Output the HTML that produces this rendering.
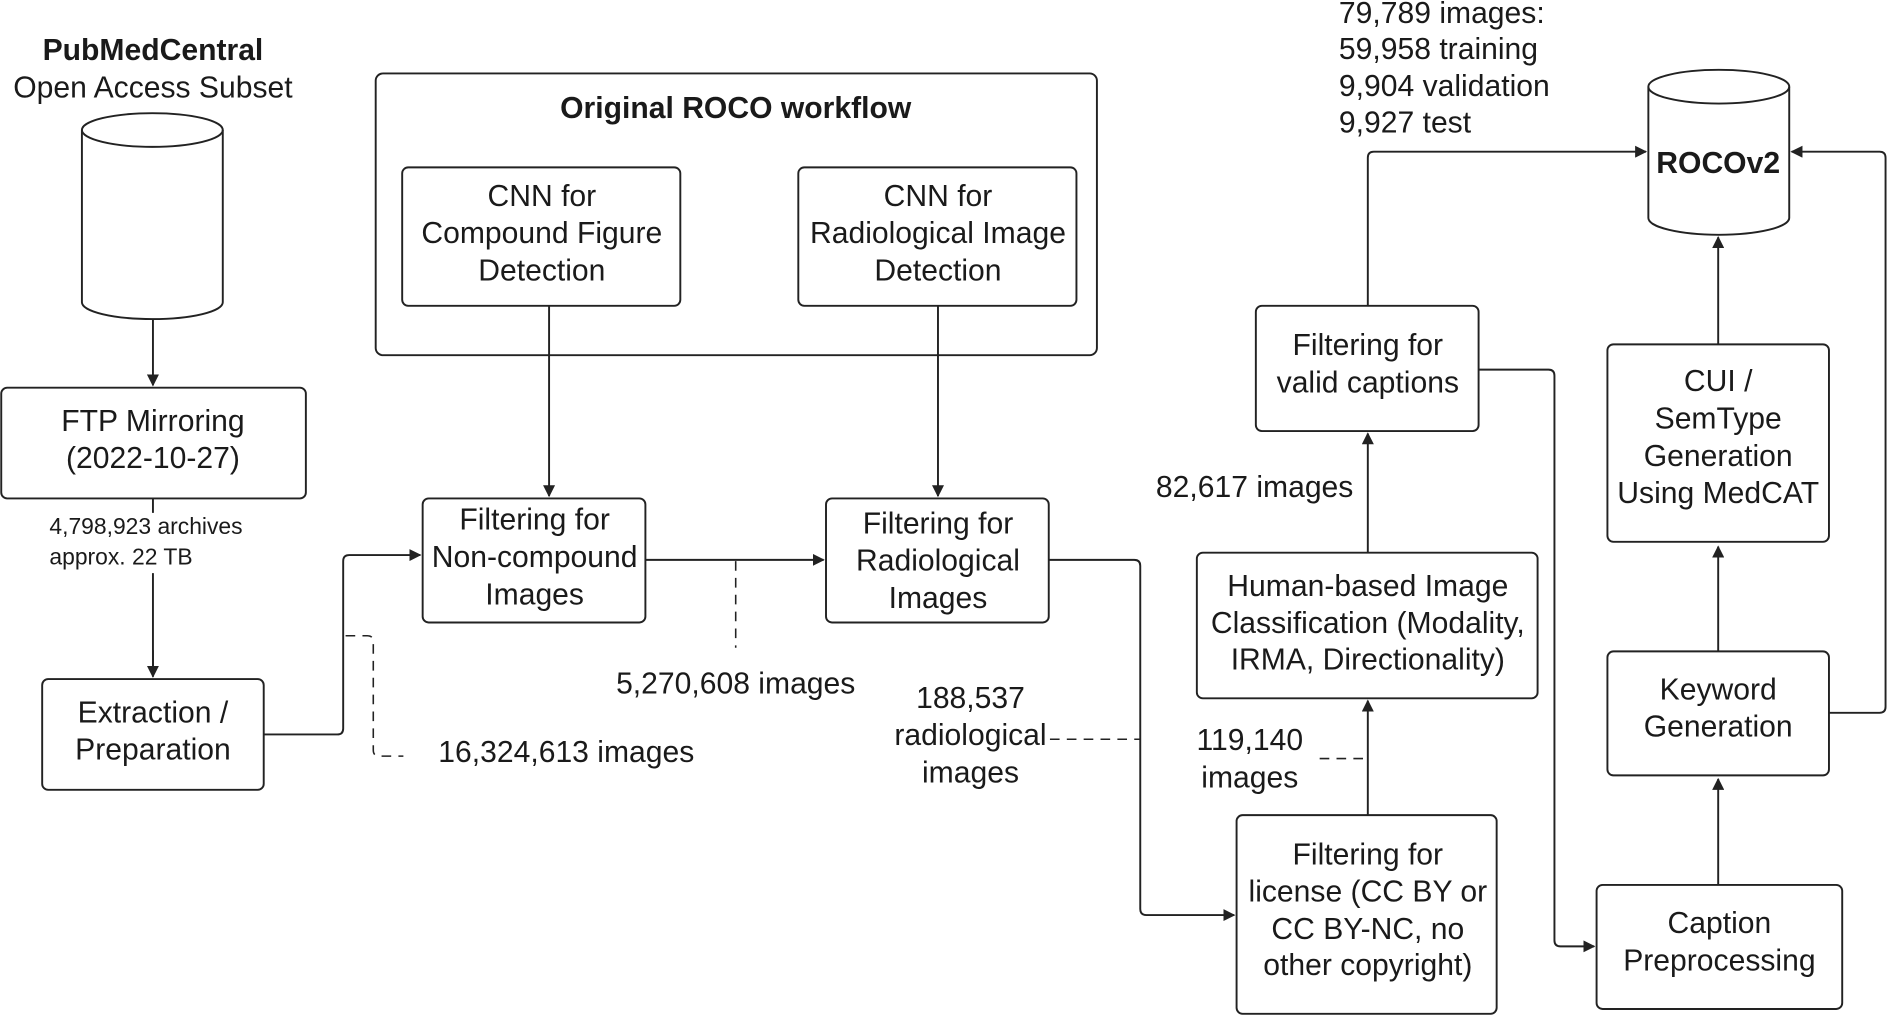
<!DOCTYPE html>
<html><head><meta charset="utf-8"><style>html,body{margin:0;padding:0;background:#fff}svg{display:block}</style></head><body>
<svg width="1888" height="1015" viewBox="0 0 1568 843" xmlns="http://www.w3.org/2000/svg" font-family="Liberation Sans, sans-serif">
<defs><marker id="a" markerWidth="10" markerHeight="10" refX="9" refY="5" orient="auto" markerUnits="userSpaceOnUse"><path d="M0,0 L10,5 L0,10 z" fill="#222"/></marker></defs>
<g fill="none" stroke="#222" stroke-width="1.6">
<path d="M68,108 v143 a58.5,14 0 0 0 117,0 v-143"/><ellipse cx="126.5" cy="108" rx="58.5" ry="14"/>
<path d="M1369,72 v109 a58.5,14 0 0 0 117,0 v-109"/><ellipse cx="1427.5" cy="72" rx="58.5" ry="14"/>
<rect x="1" y="322" width="253" height="92" rx="5"/>
<rect x="35" y="564" width="184" height="92" rx="5"/>
<rect x="312" y="61" width="599" height="234" rx="6"/>
<rect x="334" y="139" width="231" height="115" rx="5"/>
<rect x="663" y="139" width="231" height="115" rx="5"/>
<rect x="351" y="414" width="185" height="103" rx="5"/>
<rect x="686" y="414" width="185" height="103" rx="5"/>
<rect x="1027" y="677" width="216" height="165" rx="5"/>
<rect x="994" y="459" width="283" height="121" rx="5"/>
<rect x="1043" y="254" width="185" height="104" rx="5"/>
<rect x="1326" y="735" width="204" height="103" rx="5"/>
<rect x="1335" y="541" width="184" height="103" rx="5"/>
<rect x="1335" y="286" width="184" height="164" rx="5"/>
<path d="M127,265 V320" marker-end="url(#a)"/>
<path d="M127,414 V426 M127,476 V562" />
<path d="M127,540 V562" marker-end="url(#a)"/>
<path d="M219,610 H280 q5,0 5,-5 V466 q0,-5 5,-5 H349" marker-end="url(#a)"/>
<path d="M456,254 V412" marker-end="url(#a)"/>
<path d="M779,254 V412" marker-end="url(#a)"/>
<path d="M536,465 H684" marker-end="url(#a)"/>
<path d="M871,465 H942 q5,0 5,5 V755 q0,5 5,5 H1025" marker-end="url(#a)"/>
<path d="M1136,677 V582" marker-end="url(#a)"/>
<path d="M1136,459 V360" marker-end="url(#a)"/>
<path d="M1136,254 V131 q0,-5 5,-5 H1367" marker-end="url(#a)"/>
<path d="M1228,307 H1286 q5,0 5,5 V781 q0,5 5,5 H1324" marker-end="url(#a)"/>
<path d="M1427,735 V647" marker-end="url(#a)"/>
<path d="M1427,541 V454" marker-end="url(#a)"/>
<path d="M1427,286 V197" marker-end="url(#a)"/>
<path d="M1519,592 H1561 q5,0 5,-5 V131 q0,-5 -5,-5 H1488" marker-end="url(#a)"/>
<g stroke-dasharray="8,6" stroke-width="1.3">
<path d="M287,528 H305 q5,0 5,5 V623 q0,5 5,5 H335"/>
<path d="M611,466 V538"/>
<path d="M872,614 H947"/>
<path d="M1096,630 H1136"/>
</g>
</g>
<g fill="#1a1a1a" font-size="25" text-anchor="middle" dominant-baseline="central">
<text x="127" y="42" font-weight="bold">PubMedCentral</text>
<text x="127" y="73">Open Access Subset</text>
<text x="127" y="350">FTP Mirroring</text><text x="127" y="381">(2022-10-27)</text>
<text x="127" y="592">Extraction /</text><text x="127" y="623">Preparation</text>
<text x="611" y="90" font-weight="bold">Original ROCO workflow</text>
<text x="450" y="163">CNN for</text><text x="450" y="194">Compound Figure</text><text x="450" y="225">Detection</text>
<text x="779" y="163">CNN for</text><text x="779" y="194">Radiological Image</text><text x="779" y="225">Detection</text>
<text x="444" y="432">Filtering for</text><text x="444" y="463">Non-compound</text><text x="444" y="494">Images</text>
<text x="779" y="435">Filtering for</text><text x="779" y="466">Radiological</text><text x="779" y="497">Images</text>
<text x="611" y="568">5,270,608 images</text>
<text x="806" y="580">188,537</text><text x="806" y="611">radiological</text><text x="806" y="642">images</text>
<text x="1136" y="710">Filtering for</text><text x="1136" y="741">license (CC BY or</text><text x="1136" y="772">CC BY-NC, no</text><text x="1136" y="802">other copyright)</text>
<text x="1038" y="615">119,140</text><text x="1038" y="646">images</text>
<text x="1136" y="487">Human-based Image</text><text x="1136" y="518">Classification (Modality,</text><text x="1136" y="548">IRMA, Directionality)</text>
<text x="1042" y="405">82,617 images</text>
<text x="1136" y="287">Filtering for</text><text x="1136" y="318">valid captions</text>
<text x="1427" y="136" font-weight="bold">ROCOv2</text>
<text x="1427" y="317">CUI /</text><text x="1427" y="348">SemType</text><text x="1427" y="379">Generation</text><text x="1427" y="410">Using MedCAT</text>
<text x="1427" y="573">Keyword</text><text x="1427" y="604">Generation</text>
<text x="1428" y="767">Caption</text><text x="1428" y="798">Preprocessing</text>
</g>
<g fill="#1a1a1a" font-size="25" dominant-baseline="central">
<text x="364" y="625">16,324,613 images</text>
<text x="1112" y="11">79,789 images:</text><text x="1112" y="41">59,958 training</text><text x="1112" y="72">9,904 validation</text><text x="1112" y="102">9,927 test</text>
</g>
<g fill="#1a1a1a" font-size="19" dominant-baseline="central">
<text x="41" y="437">4,798,923 archives</text><text x="41" y="462">approx. 22 TB</text>
</g>
</svg>
</body></html>
